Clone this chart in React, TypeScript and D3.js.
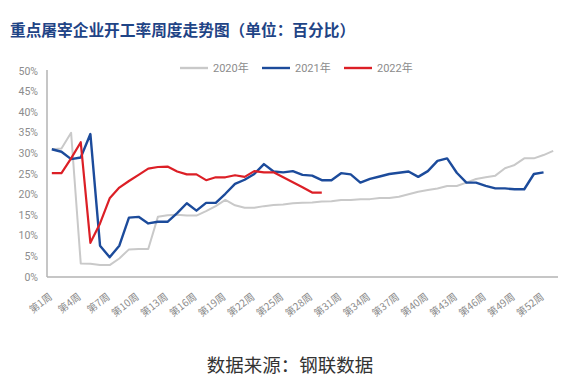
import { useEffect, useRef } from 'react';
import * as d3 from 'd3';

// 开工率 (%) by week
const weeks2020 = [
  31, 31.2, 35, 3.3, 3.2, 2.9, 2.9, 4.5, 6.7, 6.8, 6.8, 14.6, 15, 15.1, 14.9, 14.9, 16, 17.2, 18.7, 17.4,
  16.8, 16.8, 17.2, 17.5, 17.6, 17.9, 18, 18.1, 18.3, 18.4, 18.7, 18.7, 18.9, 18.9, 19.2, 19.2, 19.5, 20.1, 20.7, 21.1,
  21.5, 22.1, 22.1, 22.9, 23.8, 24.2, 24.6, 26.4, 27.2, 28.8, 28.8, 29.6, 30.6,
];
const weeks2021 = [
  31, 30.4, 28.6, 29, 34.7, 7.6, 4.8, 7.6, 14.4, 14.6, 13, 13.4, 13.4, 15.5, 17.9, 16.1, 18, 18, 20.2, 22.6,
  23.6, 25, 27.4, 25.6, 25.4, 25.7, 24.8, 24.6, 23.5, 23.5, 25.2, 24.9, 22.9, 23.8, 24.4, 25, 25.3, 25.6, 24.3, 25.7,
  28.2, 28.8, 25.3, 22.9, 22.9, 22.1, 21.5, 21.5, 21.3, 21.3, 25, 25.4,
];
const weeks2022 = [
  25.2, 25.2, 28.8, 32.7, 8.3, 13, 19.1, 21.7, 23.3, 24.8, 26.3, 26.7, 26.8, 25.6, 24.9, 24.9, 23.5, 24.2, 24.2, 24.7,
  24.3, 25.7, 25.4, 25.4, 24.2, 23, 21.8, 20.5, 20.5,
];
const seriesNames = ['2020年', '2021年', '2022年'];
const seriesColors = ['#c9c9c9', '#1c4b9b', '#dc1f26'];
const yTicks = [0, 5, 10, 15, 20, 25, 30, 35, 40, 45, 50];
const weekCount = 53;
const labelWeeks = d3.range(1, 53, 3);

const App = () => {
  const svgRef = useRef<SVGSVGElement>(null);

  useEffect(() => {
    if (!svgRef.current) return;
    const svg = d3.select(svgRef.current);
    svg.selectAll('*').remove();

    const left = 47;
    const right = 558;
    const top = 71;
    const bottom = 277;

    const x = d3
      .scalePoint<number>()
      .domain(d3.range(1, weekCount + 1))
      .range([left, right])
      .padding(0.5);
    const y = d3.scaleLinear().domain([0, 50]).range([bottom, top]);

    // Title
    svg
      .append('text')
      .attr('x', 10)
      .attr('y', 36)
      .attr('fill', '#1f4486')
      .attr('font-family', '"Noto Sans CJK SC", sans-serif')
      .attr('font-weight', 'bold')
      .attr('font-size', 15.7)
      .text('重点屠宰企业开工率周度走势图（单位：百分比）');

    // Axes
    const axisColor = '#b3b3b3';
    svg
      .append('line')
      .attr('x1', left)
      .attr('x2', left)
      .attr('y1', top - 1)
      .attr('y2', bottom)
      .attr('stroke', axisColor)
      .attr('stroke-width', 1.5);
    svg
      .append('line')
      .attr('x1', left)
      .attr('x2', right)
      .attr('y1', bottom)
      .attr('y2', bottom)
      .attr('stroke', axisColor)
      .attr('stroke-width', 1.5);

    svg
      .append('g')
      .selectAll('text')
      .data(yTicks)
      .enter()
      .append('text')
      .attr('x', 38)
      .attr('y', d => y(d))
      .attr('dy', '0.35em')
      .attr('text-anchor', 'end')
      .attr('fill', '#8c8c8c')
      .attr('font-family', 'Roboto, sans-serif')
      .attr('font-size', 10.5)
      .text(d => `${d}%`);

    svg
      .append('g')
      .selectAll('text')
      .data(labelWeeks)
      .enter()
      .append('text')
      .attr('transform', d => `translate(${(x(d) as number) + 1},${bottom + 21}) rotate(-38)`)
      .attr('text-anchor', 'end')
      .attr('fill', '#8c8c8c')
      .attr('font-family', '"Noto Sans CJK SC", sans-serif')
      .attr('font-size', 10)
      .text(d => `第${d}周`);

    // Lines
    const line = d3
      .line<number>()
      .x((_, i) => x(i + 1) as number)
      .y(d => y(d));

    const allSeries = [weeks2020, weeks2021, weeks2022];
    const widths = [2, 2.4, 2.2];
    allSeries.forEach((values, i) => {
      svg
        .append('path')
        .datum(values)
        .attr('fill', 'none')
        .attr('stroke', seriesColors[i])
        .attr('stroke-width', widths[i])
        .attr('stroke-linejoin', 'round')
        .attr('d', line);
    });

    // Legend
    const legend = svg.append('g').attr('transform', 'translate(180,68)');
    seriesNames.forEach((name, i) => {
      const g = legend.append('g').attr('transform', `translate(${i * 82},0)`);
      g.append('line')
        .attr('x1', 0)
        .attr('x2', 28)
        .attr('stroke', seriesColors[i])
        .attr('stroke-width', 2.4);
      g.append('text')
        .attr('x', 33)
        .attr('dy', '0.35em')
        .attr('fill', '#8c8c8c')
        .attr('font-family', 'Roboto, "Noto Sans CJK SC", sans-serif')
        .attr('font-size', 11)
        .text(name);
    });

    // Source
    svg
      .append('text')
      .attr('x', 290)
      .attr('y', 372)
      .attr('text-anchor', 'middle')
      .attr('fill', '#333')
      .attr('font-family', '"Noto Sans CJK SC", sans-serif')
      .attr('font-size', 18.5)
      .text('数据来源：钢联数据');
  }, []);

  return (
    <svg
      ref={svgRef}
      width={580}
      height={388}
      style={{ position: 'absolute', left: 0, top: 0, background: '#fff' }}
    />
  );
};

export default App;
